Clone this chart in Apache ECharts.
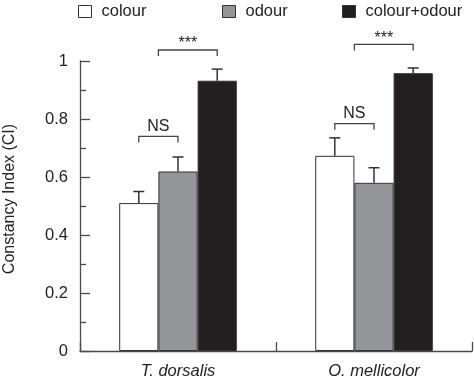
<!DOCTYPE html>
<html><head><meta charset="utf-8">
<script src="https://cdn.jsdelivr.net/npm/echarts@6/dist/echarts.min.js"></script>
<style>html,body{margin:0;padding:0;background:#fff}#c{width:474px;height:380px}</style>
</head><body><div id="c"></div>
<script>
const categories = ['T. dorsalis', 'O. mellicolor'];
const seriesNames = ['colour', 'odour', 'colour+odour'];
const colourVals = [0.51, 0.673];
const odourVals = [0.619, 0.58];
const bothVals = [0.932, 0.958];
const colourErr = [0.04, 0.062];
const odourErr = [0.05, 0.052];
const bothErr = [0.04, 0.018];
const yTicks = [0, 0.2, 0.4, 0.6, 0.8, 1];
const yTitle = 'Constancy Index (CI)';
// brackets: category, from bar slot, to bar slot, level, label
const bracketCat = [0, 0, 1, 1];
const bracketFrom = [-1, -0.5, -1, -0.5];
const bracketTo = [0, 1, 0, 1];
const bracketLevel = [0.74, 1.038, 0.784, 1.057];
const bracketLabel = ['NS', '***', 'NS', '***'];

const vals = [colourVals, odourVals, bothVals];
const errs = [colourErr, odourErr, bothErr];
const fills = ['#ffffff', '#939598', '#231f20'];
const BARFRAC = 0.2;
const AX = '#4a4a4a';
const FONT = '"Liberation Sans", Arial, sans-serif';

const series = [];
seriesNames.forEach((n, i) => {
  series.push({
    name: n, type: 'bar', data: vals[i], barWidth: '20%', barGap: '0%',
    itemStyle: {color: fills[i], borderColor: '#333', borderWidth: 1},
    emphasis: {disabled: true}, z: 2
  });
});
seriesNames.forEach((n, i) => {
  series.push({
    type: 'custom', z: 1, silent: true,
    data: vals[i].map((v, k) => [k, v, errs[i][k]]),
    renderItem: function (params, api) {
      const k = api.value(0);
      const bw = api.size([1, 0])[0] * BARFRAC;
      const base = api.coord([k, api.value(1)]);
      const top = api.coord([k, api.value(1) + api.value(2)]);
      const x = base[0] + (i - 1) * bw;
      const st = {stroke: '#333', lineWidth: 1.5};
      return {type: 'group', children: [
        {type: 'line', shape: {x1: x, y1: base[1], x2: x, y2: top[1]}, style: st},
        {type: 'line', shape: {x1: x - 5.5, y1: top[1], x2: x + 5.5, y2: top[1]}, style: st}
      ]};
    }
  });
});
series.push({
  type: 'custom', silent: true, z: 3,
  data: bracketCat.map((c, j) => [c, bracketLevel[j], bracketFrom[j], bracketTo[j], j]),
  renderItem: function (params, api) {
    const c = api.value(0);
    const j = api.value(4);
    const bw = api.size([1, 0])[0] * BARFRAC;
    const p = api.coord([c, api.value(1)]);
    const x1 = p[0] + api.value(2) * bw;
    const x2 = p[0] + api.value(3) * bw;
    const y = p[1];
    const st = {stroke: '#444', lineWidth: 1.3, fill: null};
    const isNS = bracketLabel[j] === 'NS';
    return {type: 'group', children: [
      {type: 'polyline', shape: {points: [[x1, y + 6], [x1, y], [x2, y], [x2, y + 6]]}, style: st},
      {type: 'text', style: {text: bracketLabel[j], x: (x1 + x2) / 2, y: isNS ? y - 2 : y + 2,
        align: 'center', verticalAlign: 'bottom',
        font: '16px ' + FONT, fill: '#222'}}
    ]};
  }
});

const legendPos = [78, 222, 342];
const chart = echarts.init(document.getElementById('c'), null, {renderer: 'canvas'});
chart.setOption({
  animation: false,
  textStyle: {fontFamily: FONT},
  legend: seriesNames.map((n, i) => ({
    data: [n], left: legendPos[i], top: 3, padding: 0,
    itemWidth: 13, itemHeight: 12, icon: 'rect', selectedMode: false,
    itemStyle: {borderColor: '#333', borderWidth: 1},
    textStyle: {fontSize: 16.5, color: '#222', padding: [0, 0, 0, 5]}
  })),
  graphic: [{
    type: 'text', x: 10, y: 199, rotation: Math.PI / 2,
    style: {text: yTitle, align: 'center', verticalAlign: 'middle', font: '16px ' + FONT, fill: '#222'}
  }],
  grid: {left: 80, right: 2, top: 61, bottom: 28, containLabel: false},
  xAxis: {
    type: 'category', data: categories,
    axisLine: {lineStyle: {color: AX, width: 1.3}},
    axisTick: {show: true, inside: true, length: 9, lineStyle: {color: AX, width: 1.3}},
    axisLabel: {fontSize: 16.5, fontStyle: 'italic', color: '#222', margin: 12}
  },
  yAxis: {
    type: 'value', min: 0, max: 1, interval: 0.2,
    axisLine: {show: true, lineStyle: {color: AX, width: 1.3}},
    axisTick: {show: true, inside: true, length: 10, lineStyle: {color: AX, width: 1.3}},
    minorTick: {show: true, splitNumber: 2, length: 6, lineStyle: {color: AX, width: 1.3}},
    splitLine: {show: false},
    axisLabel: {fontSize: 16.5, color: '#222', margin: 12,
      formatter: v => yTicks.includes(Math.round(v * 10) / 10) ? String(Math.round(v * 10) / 10) : ''}
  },
  series: series
});
</script></body></html>
